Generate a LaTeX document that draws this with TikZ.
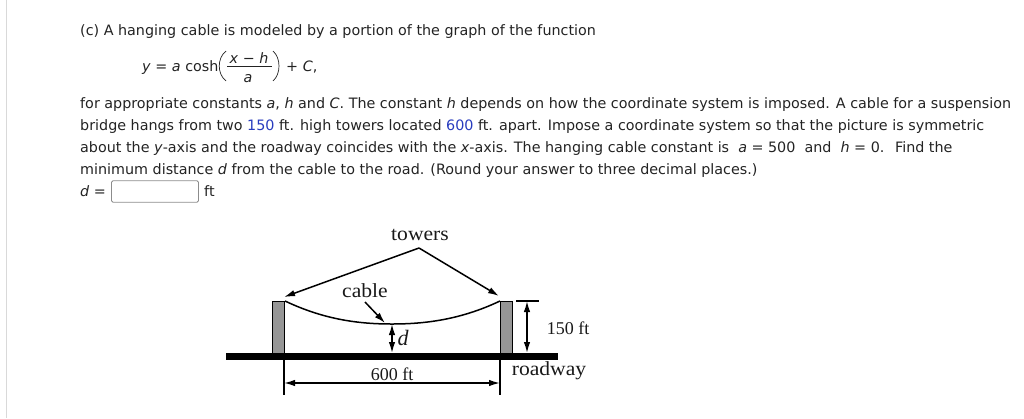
\documentclass[tikz,border=0pt]{standalone}
\usepackage{fontspec}
\setsansfont{DejaVu Sans}
\newfontfamily\figwords[FakeStretch=1.08]{Liberation Serif}
\newfontfamily\fignums{Liberation Serif}
\usetikzlibrary{arrows.meta,positioning}
\definecolor{qblue}{RGB}{40,60,190}
\definecolor{qtext}{RGB}{35,35,35}
\definecolor{towergray}{RGB}{150,150,150}
\newcommand{\vv}[1]{\textit{#1}}
\tikzset{
  qline/.style={anchor=base west,inner sep=0pt,text=qtext,font=\sffamily\fontsize{14.32}{16}\selectfont},
  eqpiece/.style={qline,anchor=base},
  lbl/.style={inner sep=0pt,anchor=base,text=black!90,font=\figwords\fontsize{20}{22}\selectfont},
  numlbl/.style={lbl,font=\fignums\fontsize{18}{20}\selectfont},
  wire/.style={line width=1.5pt},
  tower/.style={draw,fill=towergray,line width=1pt},
  dim/.style={line width=1.5pt,{Latex[length=11pt,width=6.5pt]}-{Latex[length=11pt,width=6.5pt]}},
  pointer/.style={line width=1.5pt,-{Latex[length=11pt,width=6.5pt]}},
  paren/.style={draw=qtext,line width=0.7pt}
}
\begin{document}
\begin{tikzpicture}[x=1pt,y=-1pt]
   \useasboundingbox (0,0) rectangle (1024,418);
   \draw[black!15,line width=1pt] (6.5,0) -- (6.5,418);

   % question text
   \node[qline] (l1) at (80,35) {(c) A hanging cable is modeled by a portion of the graph of the function};
   \node[qline] (l2) at (80,108) {for appropriate constants \vv{a}, \vv{h} and \vv{C}. The constant \vv{h} depends on how the coordinate system is imposed. A cable for a suspension};
   \node[qline] (l3) at (80,130) {bridge hangs from two \textcolor{qblue}{150} ft. high towers located \textcolor{qblue}{600} ft. apart. Impose a coordinate system so that the picture is symmetric};
   \node[qline] (l4) at (80,152) {about the \vv{y}-axis and the roadway coincides with the \vv{x}-axis. The hanging cable constant is \ \vv{a} = 500 \ and \ \vv{h} = 0. \ Find the};
   \node[qline] (l5) at (80,174) {minimum distance \vv{d} from the cable to the road. (Round your answer to three decimal places.)};
   \node[qline] (l6) at (80,196) {\vv{d} =};
   \node[draw=black!45,rounded corners=1.5pt,line width=0.8pt,minimum width=87pt,minimum height=21.5pt,inner sep=0pt] (ansbox) at (155,191.5) {};
   \node[qline] (l7) at (204,196) {ft};

   % equation
   \node[qline] (eqa) at (142,71) {\vv{y} = \vv{a} cosh};
   \node[eqpiece] (num) at (249,63) {\vv{x} − \vv{h}};
   \node[eqpiece] (den) at (248,82) {\vv{a}};
   \coordinate (barl) at (227,66);
   \coordinate (barr) at (272,66);
   \draw[qtext,line width=0.7pt] (barl) -- (barr);
   \coordinate (pla) at (226,51);
   \coordinate (plb) at (226,81);
   \coordinate (pra) at (273,51);
   \coordinate (prb) at (273,81);
   \draw[paren] (pla) .. controls (217,58) and (217,74) .. (plb);
   \draw[paren] (pra) .. controls (281,58) and (281,74) .. (prb);
   \node[qline] (eqb) at (286,71) {+ \vv{C},};

   % bridge
   \node[tower,minimum width=12pt,minimum height=52pt,inner sep=0pt] (ltower) at (278.5,327) {};
   \node[tower,minimum width=12pt,minimum height=52pt,inner sep=0pt] (rtower) at (506,327) {};
   \node[fill=black,minimum width=332pt,minimum height=7pt,inner sep=0pt] (road) at (392,356) {};
   \coordinate (ltop) at (285,301);
   \coordinate (rtop) at (500,301);
   \coordinate (low) at (392,324);
   \draw[wire] (ltop) .. controls (325,320) and (360,324) .. (low) .. controls (424,324) and (460,320) .. (rtop);

   \node[lbl] (towers) at (420,240) {towers};
   \coordinate (peak) at (419,248);
   \draw[pointer] (peak) -- (284,297);
   \draw[pointer] (peak) -- (499,296);

   \node[lbl] (cable) at (365,297) {cable};
   \coordinate (cablefrom) at (365,302);
   \draw[pointer] (cablefrom) -- (385,323);

   \coordinate (roadmid) at (392,353);
   \draw[dim] (low) -- (roadmid);
   \node[lbl,font=\fignums\itshape\fontsize{22}{24}\selectfont] (dlab) at (403,345) {d};

   % dimensions
   \coordinate (tickl) at (516,301);
   \coordinate (tickr) at (539,301);
   \coordinate (hgt) at (527,301);
   \coordinate (hgb) at (527,353);
   \draw[wire] (tickl) -- (tickr);
   \draw[dim] (hgt) -- (hgb);
   \node[numlbl] (ftlab) at (568,334) {150 ft};
   \node[lbl] (roadlab) at (549,375) {roadway};

   \coordinate (ldrop) at (284,360);
   \coordinate (lbot) at (284,395);
   \coordinate (rdrop) at (500,360);
   \coordinate (rbot) at (500,395);
   \draw[wire] (ldrop) -- (lbot);
   \draw[wire] (rdrop) -- (rbot);
   \coordinate (wl) at (284,383);
   \coordinate (wr) at (500,383);
   \draw[dim] (wl) -- (wr);
   \node[numlbl] (widthlab) at (392,380) {600 ft};
\end{tikzpicture}
\end{document}
